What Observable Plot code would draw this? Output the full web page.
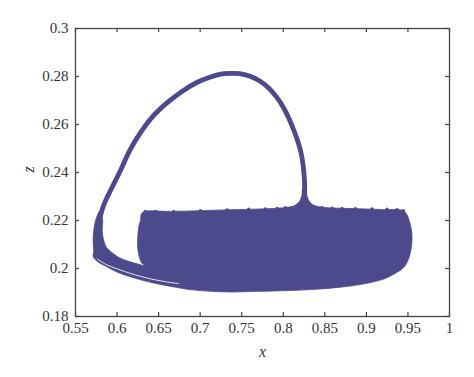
<!DOCTYPE html>
<html>
<head>
<meta charset="utf-8">
<script src="https://cdn.jsdelivr.net/npm/d3@7"></script>
<script src="https://cdn.jsdelivr.net/npm/@observablehq/plot@0.6"></script>
<style>
  html, body { margin: 0; padding: 0; background: #fff; }
  svg text { font-family: "Liberation Serif", "Times New Roman", "DejaVu Serif", serif !important; }
</style>
</head>
<body>
<div id="chart"></div>
<script>
// Axis ticks and labels
const xTicks = [0.55, 0.6, 0.65, 0.7, 0.75, 0.8, 0.85, 0.9, 0.95, 1];
const xTickLabels = ["0.55", "0.6", "0.65", "0.7", "0.75", "0.8", "0.85", "0.9", "0.95", "1"];
const yTicks = [0.18, 0.2, 0.22, 0.24, 0.26, 0.28, 0.3];
const yTickLabels = ["0.18", "0.2", "0.22", "0.24", "0.26", "0.28", "0.3"];
const xLabel = "x";
const yLabel = "z";

// Outline of the dense oscillation region (incl. lower-left strands)
const bandX = [0.6294, 0.6330, 0.6643, 0.7003, 0.7364, 0.7725, 0.8026, 0.8134, 0.8194, 0.8224, 0.8236,
  0.8272, 0.8284, 0.8315, 0.8375, 0.8507, 0.8808, 0.9168, 0.9445, 0.9487, 0.9523, 0.9547, 0.9547, 0.9529,
  0.9493, 0.9445, 0.9349, 0.9208, 0.8988, 0.8808, 0.8567, 0.8327, 0.7966, 0.7605, 0.7364, 0.7124, 0.6883,
  0.6723, 0.6423, 0.6222, 0.6021, 0.5873, 0.5777, 0.5729, 0.5710, 0.5717,
  0.5717, 0.5712, 0.5720, 0.5741, 0.5795,
  0.5827, 0.5821, 0.5840, 0.5873, 0.5933, 0.6017, 0.6137, 0.6258, 0.6330,
  0.6294, 0.6270, 0.6252, 0.6246, 0.6252, 0.6264, 0.6282];
const bandY = [0.2229, 0.2238, 0.2238, 0.2241, 0.2245, 0.2248, 0.2254, 0.2262, 0.2279, 0.2304, 0.2333,
  0.2333, 0.2304, 0.2279, 0.2262, 0.2254, 0.2250, 0.2246, 0.2241, 0.2225, 0.2191, 0.2149, 0.2108, 0.2066,
  0.2028, 0.2003, 0.1980, 0.1956, 0.1937, 0.1927, 0.1918, 0.1912, 0.1907, 0.1904, 0.1902, 0.1905, 0.1912,
  0.1921, 0.1941, 0.1959, 0.1982, 0.2008, 0.2026, 0.2041, 0.2053, 0.2064,
  0.2087, 0.2116, 0.2158, 0.2200, 0.2240,
  0.2200, 0.2158, 0.2116, 0.2088, 0.2068, 0.2047, 0.2030, 0.2018, 0.2012,
  0.2024, 0.2045, 0.2074, 0.2108, 0.2145, 0.2179, 0.2200];

// Big loop of the trajectory (centre line)
const loopX = [0.8254, 0.8257, 0.8251, 0.8236, 0.8212, 0.8176, 0.8128, 0.8068, 0.8002, 0.7918, 0.7821,
  0.7713, 0.7593, 0.7473, 0.7364, 0.7232, 0.7124, 0.6960, 0.6790, 0.6600, 0.6420, 0.6270, 0.6150,
  0.6041, 0.5921, 0.5862, 0.5817, 0.5790, 0.5778];
const loopY = [0.2308, 0.2346, 0.2387, 0.2438, 0.2484, 0.2529, 0.2575, 0.2625, 0.2671, 0.2715, 0.2753,
  0.2782, 0.2802, 0.2812, 0.2813, 0.2809, 0.2798, 0.2775, 0.2740, 0.2690, 0.2630, 0.2560, 0.2490,
  0.2408, 0.2325, 0.2283, 0.2241, 0.2200, 0.2165];

// Small bumps along the top edge of the dense region
const bumpX = [0.6342, 0.6462, 0.6682, 0.7003, 0.7325, 0.7584, 0.7785, 0.7926, 0.8026, 0.8387, 0.8467,
  0.8588, 0.8708, 0.8868, 0.9069, 0.9249, 0.9369, 0.9445];
const bumpY = [0.2238, 0.2238, 0.2238, 0.2241, 0.2244, 0.2247, 0.2249, 0.2251, 0.2254, 0.2256, 0.2254,
  0.2252, 0.2251, 0.2250, 0.2249, 0.2247, 0.2245, 0.2241];

// Thin white gap between the two lower-left strands
const gapX = [0.5765, 0.5861, 0.6021, 0.6222, 0.6402, 0.6583, 0.6739];
const gapY = [0.2039, 0.2018, 0.1996, 0.1973, 0.1957, 0.1945, 0.1937];

const band = bandX.map((x, i) => ({x, y: bandY[i]}));
const loop = loopX.map((x, i) => ({x, y: loopY[i]}));
const bumps = bumpX.map((x, i) => ({x, y: bumpY[i]}));
const gap = gapX.map((x, i) => ({x, y: gapY[i]}));

const color = "#4c4a8c";
const axisColor = "#444";
const textColor = "#333";
const serif = "Liberation Serif, Times New Roman, DejaVu Serif, serif";

const chart = Plot.plot({
  width: 474,
  height: 377,
  marginLeft: 75,
  marginRight: 25,
  marginTop: 28,
  marginBottom: 61,
  x: {domain: [0.55, 1], axis: null},
  y: {domain: [0.18, 0.3], axis: null},
  style: {
    background: "white",
    fontFamily: serif,
    fontSize: "14px",
    color: textColor
  },
  marks: [
    Plot.line(band, {x: "x", y: "y", curve: "catmull-rom-closed", fill: color, stroke: color, strokeWidth: 0.8}),
    Plot.line(loop, {x: "x", y: "y", curve: "catmull-rom", stroke: color, strokeWidth: 4.8}),
    Plot.dot(bumps, {x: "x", y: "y", r: 1.6, fill: color}),
    Plot.line(gap, {x: "x", y: "y", curve: "catmull-rom", stroke: "white", strokeWidth: 1, strokeOpacity: 0.85}),
    Plot.frame({stroke: axisColor, strokeWidth: 1.3}),
    Plot.tickX(xTicks, {x: d => d, insetTop: 284, stroke: axisColor, strokeWidth: 1.2}),
    Plot.tickX(xTicks, {x: d => d, insetBottom: 284, stroke: axisColor, strokeWidth: 1.2}),
    Plot.tickY(yTicks, {y: d => d, insetRight: 370, stroke: axisColor, strokeWidth: 1.2}),
    Plot.tickY(yTicks, {y: d => d, insetLeft: 370, stroke: axisColor, strokeWidth: 1.2}),
    Plot.text(xTicks, {x: d => d, text: (d, i) => xTickLabels[i], frameAnchor: "bottom", dy: 12, lineAnchor: "middle", fill: textColor, fontSize: 15, fontFamily: serif}),
    Plot.text(yTicks, {y: d => d, text: (d, i) => yTickLabels[i], frameAnchor: "left", dx: -7, textAnchor: "end", lineAnchor: "middle", fill: textColor, fontSize: 15, fontFamily: serif}),
    Plot.text([xLabel], {text: d => d, frameAnchor: "bottom", dy: 35, lineAnchor: "middle", fontStyle: "italic", fill: textColor, fontSize: 16, fontFamily: serif}),
    Plot.text([yLabel], {text: d => d, frameAnchor: "left", dx: -47, rotate: -90, lineAnchor: "middle", fontStyle: "italic", fill: textColor, fontSize: 16, fontFamily: serif})
  ]
});

document.getElementById("chart").appendChild(chart);
</script>
</body>
</html>
